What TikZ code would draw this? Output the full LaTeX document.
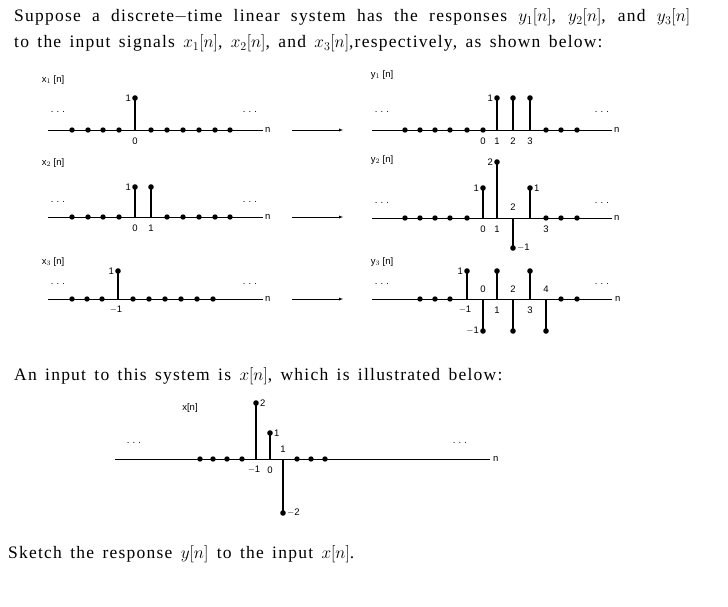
\documentclass[tikz,border=0pt]{standalone}
\usepackage{fontspec}
\setmainfont{Liberation Serif}[LetterSpace=7,WordSpace=1.5]
\newfontfamily\lab{Liberation Sans}
\tikzset{
  stemline/.style={line width=1.4pt},
  axisline/.style={line width=0.7pt},
  lbl/.style={font=\lab\fontsize{9.5}{10}\selectfont, inner sep=1pt},
  body/.style={font=\fontsize{17.5}{20}\selectfont, inner sep=0pt, anchor=base west}
}
\newcommand\dt[2]{\fill (#1,#2) circle (2.7);}
\newcommand\stm[3]{\draw[stemline] (#1,#2) -- (#1,#2-#3); \fill (#1,#2-#3) circle (2.8);}
\newcommand\dotsat[2]{\node[lbl] at (#1,#2) {.\,\,.\,\,.};}
\begin{document}
\begin{tikzpicture}[x=1pt,y=-1pt]
\useasboundingbox (0,0) rectangle (728,607);
% texts
\node[body] (t1) at (14,22) {\hbox to 676pt{Suppose a discrete$-$time linear system has the responses $y_1[n]$, $y_2[n]$, and $y_3[n]$}};
\node[body] (t2) at (14,48) {to the input signals $x_1[n]$, $x_2[n]$, and $x_3[n]$,respectively, as shown below:};
\node[body] (t3) at (14,380) {An input to this system is $x[n]$, which is illustrated below:};
\node[body] (t4) at (8,558) {Sketch the response $y[n]$ to the input $x[n]$.};
% ---------- x1
\node[lbl] (lx1) at (53,80) {x$_1$ [n]};
\draw[axisline] (48,130) -- (263,130); \node[lbl,anchor=west] (n1) at (264,130) {n};
\dotsat{58}{112} \dotsat{250}{112}
\foreach \x in {72,88,103,119,151,167,183,199,215,230} {\dt{\x}{130}}
\stm{135}{130}{32} \node[lbl,anchor=east] at (132,98) {1}; \node[lbl] at (135,141) {0};
\draw[-latex,thin] (292,130) -- (343,130);
% ---------- x2
\node[lbl] (lx2) at (53,163) {x$_2$ [n]};
\draw[axisline] (48,217) -- (263,217); \node[lbl,anchor=west] at (264,217) {n};
\dotsat{58}{202} \dotsat{250}{202}
\foreach \x in {72,88,103,119,167,183,199,215,230} {\dt{\x}{217}}
\stm{135}{217}{30} \stm{151}{217}{30} \node[lbl,anchor=east] at (132,187) {1};
\node[lbl] at (135,228) {0}; \node[lbl] at (151,228) {1};
\draw[-latex,thin] (292,217) -- (343,217);
% ---------- x3
\node[lbl] (lx3) at (53,262) {x$_3$ [n]};
\draw[axisline] (48,299) -- (263,299); \node[lbl,anchor=west] at (264,299) {n};
\dotsat{58}{284} \dotsat{250}{284}
\foreach \x in {72,87,102,133,149,165,181,197,213} {\dt{\x}{299}}
\stm{118}{299}{28} \node[lbl,anchor=east] at (115,271) {1}; \node[lbl] at (116,310) {$-$1};
\draw[-latex,thin] (292,299) -- (343,299);
% ---------- y1
\node[lbl] (ly1) at (382,75) {y$_1$ [n]};
\draw[axisline] (372,130) -- (612,130); \node[lbl,anchor=west] at (613,130) {n};
\dotsat{382}{112} \dotsat{602}{112}
\foreach \x in {405,420,435,450,467,483,546,561,577} {\dt{\x}{130}}
\stm{497}{130}{32} \stm{513}{130}{32} \stm{530}{130}{32}
\node[lbl,anchor=east] at (494,98) {1};
\node[lbl] at (483,141) {0}; \node[lbl] at (497,141) {1}; \node[lbl] at (513,141) {2}; \node[lbl] at (530,141) {3};
% ---------- y2
\node[lbl] (ly2) at (382,160) {y$_2$ [n]};
\draw[axisline] (372,218) -- (612,218); \node[lbl,anchor=west] at (613,218) {n};
\dotsat{382}{203} \dotsat{602}{203}
\foreach \x in {405,420,435,450,467,546,561,577} {\dt{\x}{218}}
\stm{483}{218}{30} \stm{497}{218}{56} \stm{513}{218}{-30} \stm{530}{218}{30}
\node[lbl,anchor=east] at (480,188) {1}; \node[lbl,anchor=east] at (494,162) {2};
\node[lbl,anchor=west] at (533,188) {1}; \node[lbl,anchor=west] at (516,248) {$-$1};
\node[lbl] at (513,207) {2};
\node[lbl] at (483,229) {0}; \node[lbl] at (497,229) {1}; \node[lbl] at (546,229) {3};
% ---------- y3
\node[lbl] (ly3) at (382,262) {y$_3$ [n]};
\draw[axisline] (372,299) -- (612,299); \node[lbl,anchor=west] at (614,299) {n};
\dotsat{382}{284} \dotsat{602}{284}
\foreach \x in {420,435,450,561,577} {\dt{\x}{299}}
\stm{467}{299}{28} \stm{483}{299}{-32} \stm{497}{299}{28} \stm{513}{299}{-32} \stm{530}{299}{28} \stm{546}{299}{-32}
\node[lbl,anchor=east] at (464,271) {1}; \node[lbl,anchor=east] at (480,331) {$-$1};
\node[lbl] at (483,289) {0}; \node[lbl] at (513,289) {2}; \node[lbl] at (546,289) {4};
\node[lbl] at (465,310) {$-$1}; \node[lbl] at (497,310) {1}; \node[lbl] at (530,310) {3};
% ---------- x[n]
\node[lbl] (lx) at (190,408) {x[n]};
\draw[axisline] (115,459) -- (490,459); \node[lbl,anchor=west] at (492,459) {n};
\dotsat{134}{443} \dotsat{460}{443}
\foreach \x in {200,213,227,242,297,311,325} {\dt{\x}{459}}
\stm{256}{459}{56} \stm{270}{459}{26} \stm{283}{459}{-54}
\node[lbl,anchor=west] at (259,403) {2}; \node[lbl,anchor=west] at (273,433) {1};
\node[lbl,anchor=west] at (286,513) {$-$2}; \node[lbl] at (283,449) {1};
\node[lbl] at (254,470) {$-$1}; \node[lbl] at (270,470) {0};
\end{tikzpicture}
\end{document}
